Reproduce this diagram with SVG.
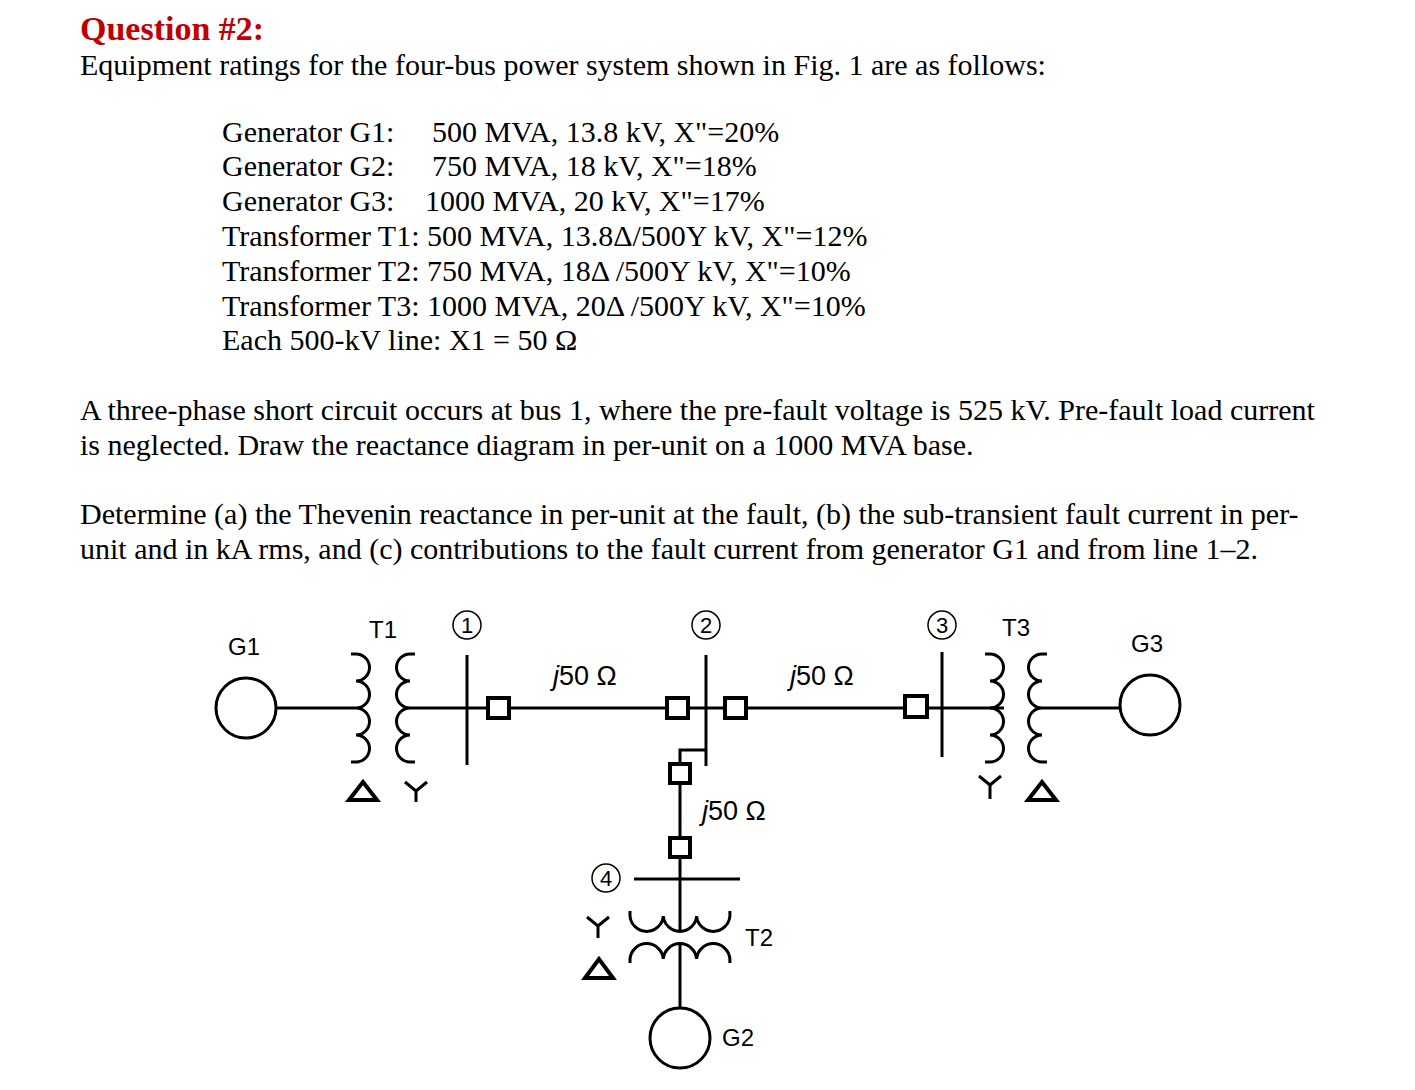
<svg xmlns="http://www.w3.org/2000/svg" width="1415" height="1090" viewBox="0 0 1415 1090">
<style>
.t{font-family:"Liberation Serif","Times New Roman",serif;font-size:30px;fill:#000}
.h{font-family:"Liberation Serif",serif;font-size:34px;font-weight:bold;fill:#c00000}
.s{font-family:"Liberation Sans",Arial,sans-serif;font-size:24px;fill:#000}
.j{font-family:"Liberation Sans",Arial,sans-serif;font-size:27px;fill:#000}
.c{font-family:"Liberation Sans",Arial,sans-serif;font-size:22px;fill:#000;text-anchor:middle}
.w{fill:none;stroke:#000;stroke-width:3}
.b{fill:#fff;stroke:#000;stroke-width:4}
</style>
<rect width="1415" height="1090" fill="#fff"/>
<g id="text">
<text class="h" x="80" y="40">Question #2:</text>
<text class="t" x="80" y="75">Equipment ratings for the four-bus power system shown in Fig. 1 are as follows:</text>
<text class="t" x="222" y="142">Generator G1:</text><text class="t" x="432" y="142">500 MVA, 13.8 kV, X"=20%</text>
<text class="t" x="222" y="176">Generator G2:</text><text class="t" x="432" y="176">750 MVA, 18 kV, X"=18%</text>
<text class="t" x="222" y="211">Generator G3:</text><text class="t" x="425" y="211">1000 MVA, 20 kV, X"=17%</text>
<text class="t" x="222" y="246">Transformer T1: 500 MVA, 13.8Δ/500Y kV, X"=12%</text>
<text class="t" x="222" y="281">Transformer T2: 750 MVA, 18Δ /500Y kV, X"=10%</text>
<text class="t" x="222" y="316">Transformer T3: 1000 MVA, 20Δ /500Y kV, X"=10%</text>
<text class="t" x="222" y="350">Each 500-kV line: X1 = 50 Ω</text>
<text class="t" x="80" y="420">A three-phase short circuit occurs at bus 1, where the pre-fault voltage is 525 kV. Pre-fault load current</text>
<text class="t" x="80" y="455">is neglected. Draw the reactance diagram in per-unit on a 1000 MVA base.</text>
<text class="t" x="80" y="524">Determine (a) the Thevenin reactance in per-unit at the fault, (b) the sub-transient fault current in per-</text>
<text class="t" x="80" y="559">unit and in kA rms, and (c) contributions to the fault current from generator G1 and from line 1–2.</text>
</g>
<g id="connectors">
<line class="w" x1="276" y1="708" x2="356" y2="708"/>
<line class="w" x1="410" y1="708" x2="1004" y2="708"/>
<line class="w" x1="1042" y1="708" x2="1120" y2="708"/>
<polyline class="w" points="706,750 680,750 680,879"/>
<line class="w" x1="680" y1="879" x2="680" y2="932"/>
<line class="w" x1="680" y1="943" x2="680" y2="1008"/>
</g>
<g id="G1"><circle class="w" cx="246" cy="708" r="30"/><text class="s" x="228" y="655">G1</text></g>
<g id="T1">
<path class="w" d="M351,654h5a13.5,13.5 0 0 1 0,27a13.5,13.5 0 0 1 0,27a13.5,13.5 0 0 1 0,27a13.5,13.5 0 0 1 0,27h-5"/>
<path class="w" d="M415,654h-5a13.5,13.5 0 0 0 0,27a13.5,13.5 0 0 0 0,27a13.5,13.5 0 0 0 0,27a13.5,13.5 0 0 0 0,27h5"/>
<text class="s" x="369" y="638">T1</text>
<path d="M349,800L363,782L377,800Z" fill="none" stroke="#000" stroke-width="4"/>
<path class="w" d="M405,782L416,791L427,782M416,791V802"/>
</g>
<g id="bus1"><line class="w" x1="467" y1="655" x2="467" y2="765"/><circle cx="467" cy="625" r="14" fill="none" stroke="#000" stroke-width="1.5"/><text class="c" x="467" y="633">1</text>
<rect class="b" x="488" y="698" width="21" height="20"/></g>
<g id="line12"><text class="j" x="553" y="685"><tspan font-style="italic">j</tspan>50 Ω</text></g>
<g id="bus2"><line class="w" x1="706" y1="655" x2="706" y2="766"/><circle cx="706" cy="625" r="14" fill="none" stroke="#000" stroke-width="1.5"/><text class="c" x="706" y="633">2</text>
<rect class="b" x="667" y="698" width="21" height="20"/><rect class="b" x="725" y="698" width="21" height="20"/>
<rect class="b" x="670" y="764" width="20" height="19"/></g>
<g id="line23"><text class="j" x="790" y="685"><tspan font-style="italic">j</tspan>50 Ω</text></g>
<g id="line24"><text class="j" x="702" y="820"><tspan font-style="italic">j</tspan>50 Ω</text><rect class="b" x="670" y="838" width="20" height="19"/></g>
<g id="bus3"><line class="w" x1="942" y1="652" x2="942" y2="757"/><circle cx="942" cy="625" r="14" fill="none" stroke="#000" stroke-width="1.5"/><text class="c" x="942" y="633">3</text>
<rect class="b" x="905" y="696" width="22" height="21"/></g>
<g id="T3">
<path class="w" d="M985,654h5a13.5,13.5 0 0 1 0,27a13.5,13.5 0 0 1 0,27a13.5,13.5 0 0 1 0,27a13.5,13.5 0 0 1 0,27h-5"/>
<path class="w" d="M1047,654h-5a13.5,13.5 0 0 0 0,27a13.5,13.5 0 0 0 0,27a13.5,13.5 0 0 0 0,27a13.5,13.5 0 0 0 0,27h5"/>
<text class="s" x="1002" y="636">T3</text>
<path class="w" d="M979,776L990,785L1001,776M990,785V799"/>
<path d="M1028,800L1042,782L1056,800Z" fill="none" stroke="#000" stroke-width="4"/>
</g>
<g id="G3"><circle class="w" cx="1150" cy="705" r="30"/><text class="s" x="1131" y="652">G3</text></g>
<g id="bus4"><line class="w" x1="634" y1="879" x2="740" y2="879"/><circle cx="606" cy="878" r="14" fill="none" stroke="#000" stroke-width="1.5"/><text class="c" x="606" y="886">4</text></g>
<g id="T2">
<path class="w" d="M630,911v5a16.7,16.7 0 0 0 33.3,0a16.7,16.7 0 0 0 33.3,0a16.7,16.7 0 0 0 33.3,0v-5"/>
<path class="w" d="M630,963v-4a16.7,16.7 0 0 1 33.3,0a16.7,16.7 0 0 1 33.3,0a16.7,16.7 0 0 1 33.3,0v4"/>
<text class="s" x="745" y="946">T2</text>
<path class="w" d="M587,917L598,926L609,917M598,926V938"/>
<path d="M585,978L599,959L613,978Z" fill="none" stroke="#000" stroke-width="4"/>
</g>
<g id="G2"><circle class="w" cx="680" cy="1038" r="30"/><text class="s" x="722" y="1046">G2</text></g>
</svg>
